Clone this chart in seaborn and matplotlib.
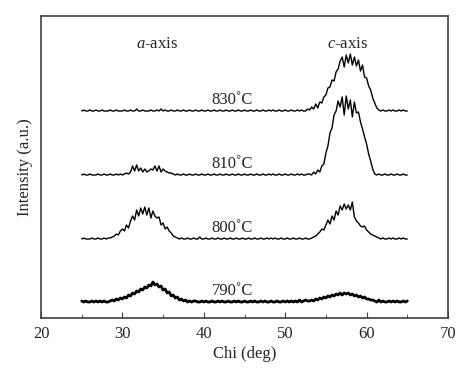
import numpy as np
import seaborn as sns
from matplotlib import pyplot as plt
from matplotlib.ticker import MultipleLocator

# chi grid, 25..65 deg in 0.25 deg steps
chi = np.arange(25, 65.01, 0.25)

# intensities (a.u.), one row per 2 deg
i830 = [0, 1, 0, 0, 1, 0, 0, 1,
        0, 0, 1, 0, 0, 0, 1, 0,
        0, 1, 0, 0, 0, 1, 0, 0,
        1, 0, 0, 2, 0, 0, 1, 0,
        0, 0, 1, 0, 0, 1, 0, 2,
        0, 1, 0, 0, 1, 0, 0, 1,
        0, 0, 1, 0, 0, 1, 0, 0,
        1, 0, 0, 1, 0, 0, 1, 0,
        0, 1, 0, 0, 1, 0, 0, 1,
        0, 0, 1, 0, 0, 1, 0, 0,
        1, 0, 0, 1, 0, 0, 1, 0,
        0, 1, 0, 0, 1, 0, 1, 0,
        0, 1, 0, 0, 1, 0, 0, 1,
        0, 0, 1, 0, 1, 0, 0, 2,
        1, 4, 2, 7, 3, 9, 8, 14,
        16, 23, 24, 31, 30, 39, 42, 50,
        54, 44, 56, 48, 57, 46, 54, 45,
        51, 40, 46, 34, 33, 25, 21, 13,
        8, 3, 1, 0, 1, 0, 0, 1,
        0, 1, 0, 0, 1, 0, 1, 0,
        0]

i810 = [0, 1, 0, 0, 1, 0, 0, 0,
        1, 0, 0, 1, 0, 0, 1, 0,
        0, 1, 0, 1, 0, 1, 2, 1,
        3, 9, 4, 10, 4, 7, 3, 6,
        3, 4, 6, 5, 9, 4, 9, 3,
        6, 4, 3, 2, 2, 1, 0, 1,
        0, 0, 1, 0, 0, 1, 0, 0,
        1, 0, 0, 1, 0, 0, 1, 0,
        0, 1, 0, 0, 1, 0, 0, 1,
        0, 0, 1, 0, 0, 1, 0, 0,
        1, 0, 0, 1, 0, 0, 1, 0,
        0, 1, 0, 0, 1, 0, 1, 0,
        0, 1, 0, 0, 1, 0, 0, 1,
        0, 0, 1, 0, 1, 0, 0, 1,
        1, 0, 3, 1, 5, 3, 9, 11,
        22, 29, 42, 47, 60, 64, 74, 68,
        78, 60, 79, 66, 75, 58, 73, 62,
        63, 53, 46, 38, 31, 21, 14, 6,
        1, 0, 1, 0, 0, 1, 0, 0,
        1, 0, 0, 1, 0, 0, 1, 0,
        0]

i800 = [0, 1, 0, 0, 0, 1, 0, 0,
        1, 0, 0, 1, 0, 1, 1, 2,
        3, 5, 4, 8, 10, 8, 14, 11,
        18, 23, 19, 29, 23, 31, 25, 32,
        24, 31, 21, 28, 23, 21, 22, 14,
        16, 10, 12, 8, 6, 3, 2, 1,
        0, 1, 0, 0, 1, 0, 0, 1,
        0, 0, 2, 0, 0, 1, 0, 0,
        1, 0, 0, 1, 0, 0, 1, 0,
        0, 1, 0, 0, 1, 0, 0, 1,
        0, 0, 1, 0, 0, 1, 0, 0,
        1, 0, 0, 1, 0, 1, 0, 1,
        0, 0, 1, 0, 0, 1, 0, 0,
        1, 0, 0, 1, 0, 0, 1, 0,
        0, 1, 2, 3, 5, 7, 10, 9,
        14, 19, 15, 23, 19, 28, 24, 33,
        29, 35, 30, 34, 29, 37, 22, 18,
        16, 13, 12, 13, 9, 7, 5, 4,
        3, 2, 1, 0, 1, 0, 0, 1,
        0, 1, 0, 0, 1, 0, 1, 0,
        0]

i790 = [1, 0, 1, 0, 0, 1, 0, 1,
        0, 1, 0, 1, 0, 0, 1, 2,
        1, 3, 2, 4, 3, 5, 4, 7,
        6, 9, 8, 11, 10, 13, 12, 15,
        14, 17, 16, 20, 17, 18, 15, 16,
        12, 13, 9, 10, 6, 7, 4, 5,
        2, 3, 1, 2, 0, 1, 0, 1,
        1, 0, 0, 1, 0, 1, 0, 0,
        1, 0, 0, 1, 0, 1, 0, 0,
        1, 0, 0, 1, 0, 1, 0, 0,
        1, 0, 0, 1, 0, 1, 0, 0,
        1, 0, 1, 0, 0, 1, 0, 0,
        1, 0, 0, 1, 0, 1, 0, 1,
        0, 1, 0, 2, 0, 1, 2, 1,
        1, 2, 1, 3, 2, 4, 3, 5,
        4, 6, 5, 7, 6, 8, 7, 9,
        7, 9, 8, 9, 7, 8, 6, 7,
        5, 6, 4, 5, 3, 3, 2, 2,
        1, 0, 2, 0, 1, 0, 0, 1,
        0, 1, 0, 1, 0, 0, 1, 0,
        1]

temps = ['830˚C', '810˚C', '800˚C', '790˚C']
curves = [i830, i810, i800, i790]
offsets = [207, 143, 79, 16]

sns.set_style("ticks")
plt.rcParams['font.family'] = ['Liberation Serif', 'DejaVu Serif']
plt.rcParams['mathtext.fontset'] = 'custom'
plt.rcParams['mathtext.rm'] = 'Liberation Serif'
plt.rcParams['mathtext.it'] = 'Liberation Serif:italic'

fig = plt.figure(figsize=(4.74, 3.79), dpi=100)
ax = fig.add_axes([41 / 474, 61 / 379, 407 / 474, 302 / 379])

for name, vals, off in zip(temps, curves, offsets):
    lw = 2.0 if name == '790˚C' else 1.0
    sns.lineplot(x=chi, y=np.array(vals) + off, color='black', lw=lw, ax=ax)
    ax.text(43.5, off + 11, name, ha='center', va='center', fontsize=12)

ax.text(34.3, 274, r'$\it{a}$-axis', ha='center', va='center', fontsize=12)
ax.text(57.6, 274, r'$\it{c}$-axis', ha='center', va='center', fontsize=12)

ax.set_xlim(20, 70)
ax.set_ylim(0, 302)
ax.xaxis.set_major_locator(MultipleLocator(10))
ax.xaxis.set_minor_locator(MultipleLocator(5))
ax.tick_params(axis='x', which='both', direction='in', labelsize=12, color='#404040',
               top=False, pad=6)
ax.tick_params(axis='x', which='major', length=4)
ax.tick_params(axis='x', which='minor', length=3)
ax.set_yticks([])
ax.set_xlabel('Chi (deg)', fontsize=12, labelpad=3)
ax.set_ylabel('Intensity (a.u.)', fontsize=12, labelpad=6)
for s in ax.spines.values():
    s.set_color('#404040')
    s.set_linewidth(1.2)

fig.savefig('out.png', dpi=100)
